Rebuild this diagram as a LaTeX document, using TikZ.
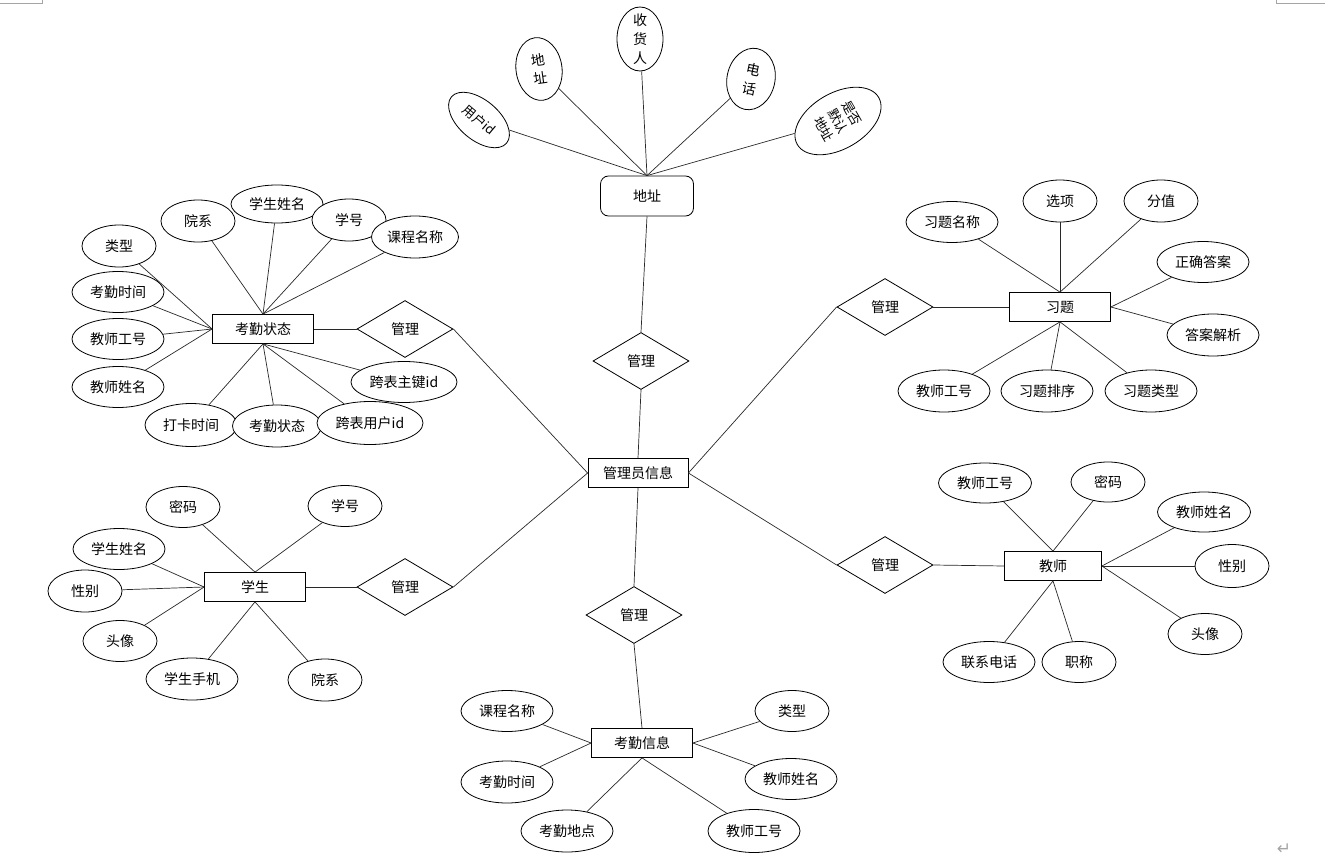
\documentclass[tikz,border=0pt]{standalone}
\usepackage{fontspec}
\setmainfont{Noto Sans CJK SC}
\newfontfamily\symfont{DejaVu Sans}
\usepackage{tikz}
\usetikzlibrary{shapes.geometric, positioning}
\definecolor{linegray}{RGB}{40, 40, 40}
\definecolor{markgray}{RGB}{165, 165, 165}

\tikzset{
  attr/.style={draw, ellipse, fill=white, line width=0.8pt, minimum width=92,
    minimum height=41, inner sep=0pt, font=\fontsize{14}{17}\selectfont},
  attrs/.style={attr, minimum width=74},
  vattr/.style={attr, align=center, inner sep=-8pt,
    font=\fontsize{14}{19}\selectfont},
  entity/.style={draw, rectangle, fill=white, line width=0.8pt,
    minimum width=101, minimum height=29, inner sep=0pt,
    font=\fontsize{14}{17}\selectfont},
  rel/.style={draw, diamond, fill=white, line width=0.8pt, minimum width=96,
    minimum height=57, inner sep=0pt, font=\fontsize{14}{17}\selectfont},
  link/.style={draw=linegray, line width=0.7pt}
}

\begin{document}
\begin{tikzpicture}[x=1pt, y=-1pt]
  \useasboundingbox (0,0) rectangle (1344,864);

  % page marks
  \draw[markgray, line width=0.8pt] (0,3) -- (42,3) -- (42,0);
  \draw[markgray, line width=0.8pt] (1276,0) -- (1276,3) -- (1325,3);
  \node[markgray, font=\symfont\fontsize{17}{17}\selectfont] (ret) at (1284,849) {↵};

  % central entity and relations
  \node[entity, minimum width=100] (gly) at (638,473) {管理员信息};
  \node[entity, rounded corners=8pt, minimum width=93, minimum height=40] (dz) at (647,196) {地址};
  \node[rel] (r1) at (641,361) {管理};
  \node[rel] (r2) at (634,615) {管理};
  \node[rel] (r3) at (405,329) {管理};
  \node[rel] (r4) at (405,587) {管理};
  \node[rel] (r5) at (885,307) {管理};
  \node[rel] (r6) at (885,565) {管理};

  \draw[link] (dz.south) -- (r1.north);
  \draw[link] (r1.south) -- (gly.north);
  \draw[link] (gly.south) -- (r2.north);

  % address attributes
  \node[attr, rotate=-40, minimum width=72, minimum height=40,
    font=\fontsize{13}{15}\selectfont] (dz1) at (479,120) {用户id};
  \node[vattr, rotate=8, minimum width=46, minimum height=63] (dz2) at (539,69) {地\\址};
  \node[vattr, minimum width=46, minimum height=64] (dz3) at (640,39) {收\\货\\人};
  \node[vattr, rotate=-12, minimum width=48, minimum height=62] (dz4) at (751,79) {电\\话};
  \node[vattr, rotate=-60, minimum width=56, minimum height=94,
    font=\fontsize{13}{16}\selectfont] (dz5) at (838,121) {是否\\默认\\地址};
  \foreach \a in {dz1, dz2, dz3, dz4, dz5}
    \draw[link] (\a) -- (dz.north);

  % attendance status
  \node[entity] (kqzt) at (263,329) {考勤状态};
  \node[attrs, minimum height=42] (k1) at (119,246) {类型};
  \node[attr] (k2) at (118,292) {考勤时间};
  \node[attr] (k3) at (118,339) {教师工号};
  \node[attr] (k4) at (118,387) {教师姓名};
  \node[attrs, minimum height=42] (k5) at (198,221) {院系};
  \node[attr, minimum height=38] (k6) at (277,204) {学生姓名};
  \node[attrs, minimum height=42] (k7) at (349,220) {学号};
  \node[attr, minimum width=87, minimum height=42] (k8) at (415,237) {课程名称};
  \node[attr, minimum width=106] (k9) at (404,382) {跨表主键id};
  \node[attr, minimum height=43] (k10) at (191,425) {打卡时间};
  \node[attr, minimum width=89, minimum height=42] (k11) at (277,426) {考勤状态};
  \node[attr, minimum width=106, minimum height=43] (k12) at (370,423) {跨表用户id};
  \foreach \a in {k1, k2, k3, k4}
    \draw[link] (\a) -- (kqzt.west);
  \foreach \a in {k5, k6, k7, k8}
    \draw[link] (\a) -- (kqzt.north);
  \foreach \a in {k9, k10, k11, k12}
    \draw[link] (\a) -- (kqzt.south);
  \draw[link] (kqzt.east) -- (r3.west);
  \draw[link] (r3.east) -- (gly.west);

  % student
  \node[entity] (xs) at (255,587) {学生};
  \node[attrs] (s1) at (183,507) {密码};
  \node[attrs] (s2) at (345,506) {学号};
  \node[attr] (s3) at (119,549) {学生姓名};
  \node[attrs, minimum height=42] (s4) at (85,591) {性别};
  \node[attrs] (s5) at (120,641) {头像};
  \node[attr, minimum height=42] (s6) at (192,679) {学生手机};
  \node[attrs, minimum height=42] (s7) at (325,680) {院系};
  \foreach \a in {s1, s2}
    \draw[link] (\a) -- (xs.north);
  \foreach \a in {s3, s4, s5}
    \draw[link] (\a) -- (xs.west);
  \foreach \a in {s6, s7}
    \draw[link] (\a) -- (xs.south);
  \draw[link] (xs.east) -- (r4.west);
  \draw[link] (r4.east) -- (gly.west);

  % exercise
  \node[entity] (xt) at (1060,307) {习题};
  \node[attr] (t1) at (952,222) {习题名称};
  \node[attrs, minimum height=42] (t2) at (1060,201) {选项};
  \node[attrs, minimum height=42] (t3) at (1161,201) {分值};
  \node[attr] (t4) at (1203,262) {正确答案};
  \node[attr, minimum height=42] (t5) at (1213,335) {答案解析};
  \node[attr, minimum height=42] (t6) at (944,391) {教师工号};
  \node[attr, minimum height=42] (t7) at (1047,391) {习题排序};
  \node[attr, minimum height=42] (t8) at (1151,391) {习题类型};
  \foreach \a in {t1, t2, t3}
    \draw[link] (\a) -- (xt.north);
  \foreach \a in {t4, t5}
    \draw[link] (\a) -- (xt.east);
  \foreach \a in {t6, t7, t8}
    \draw[link] (\a) -- (xt.south);
  \draw[link] (gly.east) -- (r5.west);
  \draw[link] (r5.east) -- (xt.west);

  % teacher
  \node[entity, minimum width=97] (js) at (1053,566) {教师};
  \node[attr, minimum width=93, minimum height=40] (j1) at (985,483) {教师工号};
  \node[attrs, minimum height=40] (j2) at (1108,482) {密码};
  \node[attr, minimum width=93, minimum height=40] (j3) at (1204,512) {教师姓名};
  \node[attrs, minimum height=43] (j4) at (1232,566) {性别};
  \node[attrs] (j5) at (1205,634) {头像};
  \node[attr] (j6) at (989,662) {联系电话};
  \node[attrs] (j7) at (1079,662) {职称};
  \foreach \a in {j1, j2}
    \draw[link] (\a) -- (js.north);
  \foreach \a in {j3, j4, j5}
    \draw[link] (\a) -- (js.east);
  \foreach \a in {j6, j7}
    \draw[link] (\a) -- (js.south);
  \draw[link] (gly.east) -- (r6.west);
  \draw[link] (r6.east) -- (js.west);

  % attendance info
  \node[entity] (kqxx) at (642,743) {考勤信息};
  \node[attr] (x1) at (507,711) {课程名称};
  \node[attr, minimum height=42] (x2) at (507,782) {考勤时间};
  \node[attr, minimum height=42] (x3) at (567,831) {考勤地点};
  \node[attrs] (x4) at (792,711) {类型};
  \node[attr] (x5) at (791,779) {教师姓名};
  \node[attr, minimum height=43] (x6) at (754,831) {教师工号};
  \foreach \a in {x1, x2}
    \draw[link] (\a) -- (kqxx.west);
  \foreach \a in {x4, x5}
    \draw[link] (\a) -- (kqxx.east);
  \foreach \a in {x3, x6}
    \draw[link] (\a) -- (kqxx.south);
  \draw[link] (r2.south) -- (kqxx.north);
\end{tikzpicture}
\end{document}
